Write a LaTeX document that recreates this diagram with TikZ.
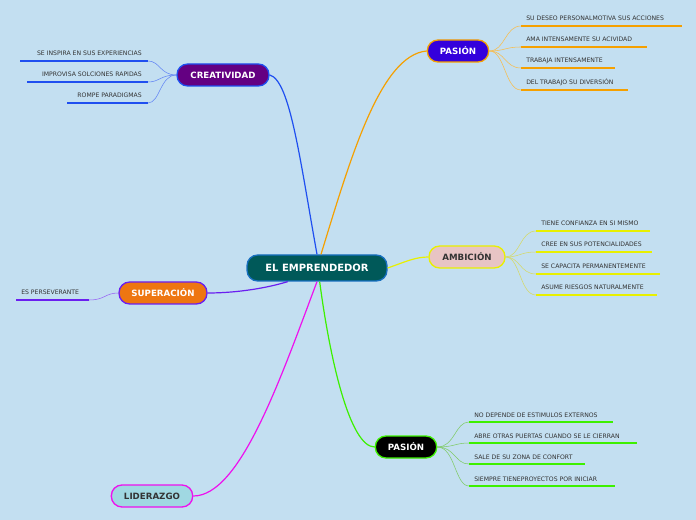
\documentclass[tikz,border=0pt]{standalone}
\usepackage{fontspec}
\setmainfont{DejaVu Sans}
\begin{document}
\begin{tikzpicture}[x=0.75pt,y=-0.75pt,
 main/.style={rounded corners=8pt,line width=1pt,font=\bfseries\fontsize{6.5}{8}\selectfont,inner sep=0pt},
 leaf/.style={font=\fontsize{4.6}{6}\selectfont,text=black!80,inner sep=0pt,anchor=base west},
 leafr/.style={font=\fontsize{4.6}{6}\selectfont,text=black!80,inner sep=0pt,anchor=base east}]
\definecolor{bg}{HTML}{C3DFF1}
\definecolor{org}{HTML}{F5A000}
\definecolor{blu}{HTML}{1F4FF0}
\definecolor{yel}{HTML}{E8F000}
\definecolor{pur}{HTML}{6A1FF0}
\definecolor{grn}{HTML}{3DF000}
\definecolor{mag}{HTML}{EE10EE}
\fill[bg] (0,0) rectangle (696,520);
\useasboundingbox (0,0) rectangle (696,520);
% nodes
\node[main,minimum width=105pt,minimum height=19.5pt,fill=teal!70!black,draw=cyan!50!blue,text=white,font=\bfseries\fontsize{7.5}{9}\selectfont] (c) at (317,268) {EL EMPRENDEDOR};
\node[main,minimum width=46pt,minimum height=16.5pt,fill={rgb,255:red,52;green,0;blue,220},draw=org,text=white] (p1) at (458,51) {PASIÓN};
\node[main,minimum width=69pt,minimum height=16.5pt,fill={rgb,255:red,100;green,0;blue,130},draw=blu,text=white] (cr) at (223,75) {CREATIVIDAD};
\node[main,minimum width=57pt,minimum height=16.5pt,fill={rgb,255:red,232;green,196;blue,196},draw=yel,text=black!80] (am) at (467,257) {AMBICIÓN};
\node[main,minimum width=66pt,minimum height=16.5pt,fill={rgb,255:red,238;green,118;blue,17},draw=pur,text=white] (su) at (163,293) {SUPERACIÓN};
\node[main,minimum width=46pt,minimum height=16.5pt,fill=black,draw=grn,text=white] (p2) at (406,447) {PASIÓN};
\node[main,minimum width=61pt,minimum height=16.5pt,fill={rgb,255:red,160;green,216;blue,226},draw=mag,text=black!80] (li) at (152,496) {LIDERAZGO};
% main connectors
\draw[org,line width=0.9pt] ([xshift=3pt]c.north) .. controls (350,160) and (380,55) .. (p1.west);
\draw[blu,line width=0.9pt] (c.north) .. controls (300,160) and (290,80) .. (cr.east);
\draw[yel,line width=0.9pt] (c.east) .. controls (405,262) and (415,257) .. (am.west);
\draw[pur,line width=0.9pt] ([xshift=-22pt]c.south) .. controls (260,290) and (230,293) .. (su.east);
\draw[grn,line width=0.9pt] ([xshift=2pt]c.south) .. controls (330,360) and (350,447) .. (p2.west);
\draw[mag,line width=0.9pt] (c.south) .. controls (280,380) and (240,496) .. (li.east);
% pasion top leaves
\foreach \y/\e/\t [count=\i] in {26/682/SU DESEO PERSONALMOTIVA SUS ACCIONES,47/647/AMA INTENSAMENTE SU ACIVIDAD,68/615/TRABAJA INTENSAMENTE,90/628/DEL TRABAJO SU DIVERSIÓN}{
 \coordinate (a\i) at (521,\y);
 \draw[org,line width=1.2pt] (a\i) -- (\e,\y);
 \draw[org!70,line width=0.4pt] (p1.east) .. controls (505,51) and (505,\y) .. (a\i);
 \node[leaf] at (526,\y-5) {\t};}
% creatividad leaves
\foreach \y/\s/\t [count=\i] in {61/20/SE INSPIRA EN SUS EXPERIENCIAS,82/27/IMPROVISA SOLCIONES RAPIDAS,103/67/ROMPE PARADIGMAS}{
 \coordinate (b\i) at (148,\y);
 \draw[blu,line width=1.2pt] (\s,\y) -- (b\i);
 \draw[blu!70,line width=0.4pt] (cr.west) .. controls (160,75) and (160,\y) .. (b\i);
 \node[leafr] at (142,\y-5) {\t};}
% ambicion leaves
\foreach \y/\e/\t [count=\i] in {231/650/TIENE CONFIANZA EN SI MISMO,252/652/CREE EN SUS POTENCIALIDADES,274/660/SE CAPACITA PERMANENTEMENTE,295/657/ASUME RIESGOS NATURALMENTE}{
 \coordinate (d\i) at (536,\y);
 \draw[yel,line width=1.2pt] (d\i) -- (\e,\y);
 \draw[yel!80!black!60,line width=0.4pt] (am.east) .. controls (520,257) and (520,\y) .. (d\i);
 \node[leaf] at (541,\y-5) {\t};}
% superacion leaf
\coordinate (s1) at (89,300);
\draw[pur,line width=1.2pt] (16,300) -- (s1);
\draw[pur!70,line width=0.4pt] (su.west) .. controls (105,293) and (105,300) .. (s1);
\node[leaf] at (21,295) {ES PERSEVERANTE};
% pasion bottom leaves
\foreach \y/\e/\t [count=\i] in {422/613/NO DEPENDE DE ESTIMULOS EXTERNOS,443/637/ABRE OTRAS PUERTAS CUANDO SE LE CIERRAN,464/585/SALE DE SU ZONA DE CONFORT,486/615/SIEMPRE TIENEPROYECTOS POR INICIAR}{
 \coordinate (g\i) at (469,\y);
 \draw[grn,line width=1.2pt] (g\i) -- (\e,\y);
 \draw[grn!70!black!60,line width=0.4pt] (p2.east) .. controls (455,447) and (455,\y) .. (g\i);
 \node[leaf] at (474,\y-5) {\t};}
\end{tikzpicture}
\end{document}
